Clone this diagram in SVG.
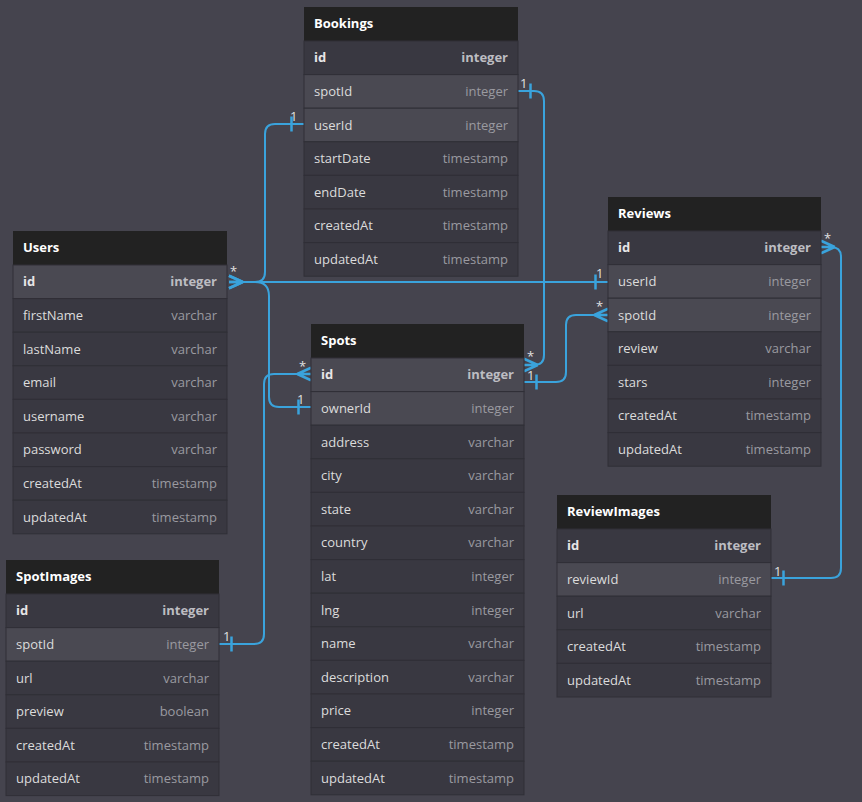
<svg xmlns="http://www.w3.org/2000/svg" width="862" height="802" viewBox="0 0 862 802">
<style>
text{font-family:"Open Sans","Noto Sans",sans-serif;font-size:13px}
.h{fill:#222222}
.hd{fill:#ffffff;font-weight:bold}
.r{fill:#393841;stroke:#302f37;stroke-width:1}
.f{fill:#4a4952;stroke:#302f37;stroke-width:1}
.n{fill:#dcdcdc}
.t{fill:#9a9aa0;text-anchor:end}
.b{font-weight:bold}
.nb{fill:#e6e6e6;font-weight:bold}
.tb{fill:#bdbdc2;font-weight:bold;text-anchor:end}
.c{fill:none;stroke:#3aa3dc;stroke-width:2}
.lbl{fill:#e0e0e0;font-size:13px}
</style>
<defs>
<marker id="many" markerUnits="userSpaceOnUse" markerWidth="20" markerHeight="20" refX="0" refY="0" viewBox="-12 -8 14 16" orient="auto-start-reverse" overflow="visible">
<path d="M-11 0 L0 -5 M-11 0 L0 5 M-11 0 L0 0" fill="none" stroke="#3aa3dc" stroke-width="2"/>
</marker>
<marker id="one" markerUnits="userSpaceOnUse" markerWidth="20" markerHeight="20" refX="0" refY="0" viewBox="-12 -8 14 16" orient="auto-start-reverse" overflow="visible">
<path d="M-10 -6 L-10 6" fill="none" stroke="#3aa3dc" stroke-width="2"/>
</marker>
</defs>
<rect width="862" height="802" fill="#45444e"/>

<g id="connectors">
<path class="c" d="M229 282 L255 282 Q265 282 265 272 L265 134 Q265 124 275 124 L304 124" marker-start="url(#many)" marker-end="url(#one)"/>
<path class="c" d="M229 282 L608 282" marker-start="url(#many)" marker-end="url(#one)"/>
<path class="c" d="M255 282 Q269 282 269 296 L269 397 Q269 407 279 407 L311 407" marker-end="url(#one)"/>
<path class="c" d="M219 644 L254 644 Q264 644 264 634 L264 384 Q264 374 274 374 L311 374" marker-start="url(#one)" marker-end="url(#many)"/>
<path class="c" d="M518 91 L534 91 Q544 91 544 101 L544 355 Q544 365 534 365 L524 365" marker-start="url(#one)" marker-end="url(#many)"/>
<path class="c" d="M524 382 L556 382 Q566 382 566 372 L566 325 Q566 315 576 315 L608 315" marker-start="url(#one)" marker-end="url(#many)"/>
<path class="c" d="M771 578 L831 578 Q841 578 841 568 L841 257 Q841 247 831 247 L821 247" marker-start="url(#one)" marker-end="url(#many)"/>
<text class="lbl" x="230" y="276">*</text>
<text class="lbl" x="290" y="121">1</text>
<text class="lbl" x="596" y="278">1</text>
<text class="lbl" x="297" y="404">1</text>
<text class="lbl" x="299" y="371">*</text>
<text class="lbl" x="223" y="641">1</text>
<text class="lbl" x="520" y="88">1</text>
<text class="lbl" x="527" y="361">*</text>
<text class="lbl" x="527" y="380">1</text>
<text class="lbl" x="596" y="311">*</text>
<text class="lbl" x="774" y="576">1</text>
<text class="lbl" x="824" y="243">*</text>
</g>

<g id="Bookings">
<rect class="h" x="304" y="7" width="214" height="34"/>
<text class="hd" x="314" y="28">Bookings</text>
<rect class="r" x="304" y="41" width="214" height="33.6"/><text class="nb" x="314" y="62">id</text><text class="tb" x="508" y="62">integer</text>
<rect class="f" x="304" y="74.6" width="214" height="33.6"/><text class="n" x="314" y="96">spotId</text><text class="t" x="508" y="96">integer</text>
<rect class="f" x="304" y="108.2" width="214" height="33.6"/><text class="n" x="314" y="129.5">userId</text><text class="t" x="508" y="129.5">integer</text>
<rect class="r" x="304" y="141.8" width="214" height="33.6"/><text class="n" x="314" y="163">startDate</text><text class="t" x="508" y="163">timestamp</text>
<rect class="r" x="304" y="175.4" width="214" height="33.6"/><text class="n" x="314" y="196.7">endDate</text><text class="t" x="508" y="196.7">timestamp</text>
<rect class="r" x="304" y="209" width="214" height="33.6"/><text class="n" x="314" y="230.3">createdAt</text><text class="t" x="508" y="230.3">timestamp</text>
<rect class="r" x="304" y="242.6" width="214" height="33.6"/><text class="n" x="314" y="263.9">updatedAt</text><text class="t" x="508" y="263.9">timestamp</text>
</g>

<g id="Users">
<rect class="h" x="13" y="231" width="214" height="34"/>
<text class="hd" x="23" y="252">Users</text>
<rect class="f" x="13" y="265" width="214" height="33.6"/><text class="nb" x="23" y="286.3">id</text><text class="tb" x="217" y="286.3">integer</text>
<rect class="r" x="13" y="298.6" width="214" height="33.6"/><text class="n" x="23" y="319.9">firstName</text><text class="t" x="217" y="319.9">varchar</text>
<rect class="r" x="13" y="332.2" width="214" height="33.6"/><text class="n" x="23" y="353.5">lastName</text><text class="t" x="217" y="353.5">varchar</text>
<rect class="r" x="13" y="365.8" width="214" height="33.6"/><text class="n" x="23" y="387.1">email</text><text class="t" x="217" y="387.1">varchar</text>
<rect class="r" x="13" y="399.4" width="214" height="33.6"/><text class="n" x="23" y="420.7">username</text><text class="t" x="217" y="420.7">varchar</text>
<rect class="r" x="13" y="433" width="214" height="33.6"/><text class="n" x="23" y="454.3">password</text><text class="t" x="217" y="454.3">varchar</text>
<rect class="r" x="13" y="466.6" width="214" height="33.6"/><text class="n" x="23" y="487.9">createdAt</text><text class="t" x="217" y="487.9">timestamp</text>
<rect class="r" x="13" y="500.2" width="214" height="33.6"/><text class="n" x="23" y="521.5">updatedAt</text><text class="t" x="217" y="521.5">timestamp</text>
</g>

<g id="Reviews">
<rect class="h" x="608" y="197" width="213" height="34"/>
<text class="hd" x="618" y="218">Reviews</text>
<rect class="r" x="608" y="231" width="213" height="33.6"/><text class="nb" x="618" y="252.3">id</text><text class="tb" x="811" y="252.3">integer</text>
<rect class="f" x="608" y="264.6" width="213" height="33.6"/><text class="n" x="618" y="285.9">userId</text><text class="t" x="811" y="285.9">integer</text>
<rect class="f" x="608" y="298.2" width="213" height="33.6"/><text class="n" x="618" y="319.5">spotId</text><text class="t" x="811" y="319.5">integer</text>
<rect class="r" x="608" y="331.8" width="213" height="33.6"/><text class="n" x="618" y="353.1">review</text><text class="t" x="811" y="353.1">varchar</text>
<rect class="r" x="608" y="365.4" width="213" height="33.6"/><text class="n" x="618" y="386.7">stars</text><text class="t" x="811" y="386.7">integer</text>
<rect class="r" x="608" y="399" width="213" height="33.6"/><text class="n" x="618" y="420.3">createdAt</text><text class="t" x="811" y="420.3">timestamp</text>
<rect class="r" x="608" y="432.6" width="213" height="33.6"/><text class="n" x="618" y="453.9">updatedAt</text><text class="t" x="811" y="453.9">timestamp</text>
</g>

<g id="Spots">
<rect class="h" x="311" y="324" width="213" height="34"/>
<text class="hd" x="321" y="345">Spots</text>
<rect class="f" x="311" y="358" width="213" height="33.6"/><text class="nb" x="321" y="379.3">id</text><text class="tb" x="514" y="379.3">integer</text>
<rect class="f" x="311" y="391.6" width="213" height="33.6"/><text class="n" x="321" y="412.9">ownerId</text><text class="t" x="514" y="412.9">integer</text>
<rect class="r" x="311" y="425.2" width="213" height="33.6"/><text class="n" x="321" y="446.5">address</text><text class="t" x="514" y="446.5">varchar</text>
<rect class="r" x="311" y="458.8" width="213" height="33.6"/><text class="n" x="321" y="480.1">city</text><text class="t" x="514" y="480.1">varchar</text>
<rect class="r" x="311" y="492.4" width="213" height="33.6"/><text class="n" x="321" y="513.7">state</text><text class="t" x="514" y="513.7">varchar</text>
<rect class="r" x="311" y="526" width="213" height="33.6"/><text class="n" x="321" y="547.3">country</text><text class="t" x="514" y="547.3">varchar</text>
<rect class="r" x="311" y="559.6" width="213" height="33.6"/><text class="n" x="321" y="580.9">lat</text><text class="t" x="514" y="580.9">integer</text>
<rect class="r" x="311" y="593.2" width="213" height="33.6"/><text class="n" x="321" y="614.5">lng</text><text class="t" x="514" y="614.5">integer</text>
<rect class="r" x="311" y="626.8" width="213" height="33.6"/><text class="n" x="321" y="648.1">name</text><text class="t" x="514" y="648.1">varchar</text>
<rect class="r" x="311" y="660.4" width="213" height="33.6"/><text class="n" x="321" y="681.7">description</text><text class="t" x="514" y="681.7">varchar</text>
<rect class="r" x="311" y="694" width="213" height="33.6"/><text class="n" x="321" y="715.3">price</text><text class="t" x="514" y="715.3">integer</text>
<rect class="r" x="311" y="727.6" width="213" height="33.6"/><text class="n" x="321" y="748.9">createdAt</text><text class="t" x="514" y="748.9">timestamp</text>
<rect class="r" x="311" y="761.2" width="213" height="33.6"/><text class="n" x="321" y="782.5">updatedAt</text><text class="t" x="514" y="782.5">timestamp</text>
</g>

<g id="SpotImages">
<rect class="h" x="6" y="560" width="213" height="34"/>
<text class="hd" x="16" y="581">SpotImages</text>
<rect class="r" x="6" y="594" width="213" height="33.6"/><text class="nb" x="16" y="615.3">id</text><text class="tb" x="209" y="615.3">integer</text>
<rect class="f" x="6" y="627.6" width="213" height="33.6"/><text class="n" x="16" y="648.9">spotId</text><text class="t" x="209" y="648.9">integer</text>
<rect class="r" x="6" y="661.2" width="213" height="33.6"/><text class="n" x="16" y="682.5">url</text><text class="t" x="209" y="682.5">varchar</text>
<rect class="r" x="6" y="694.8" width="213" height="33.6"/><text class="n" x="16" y="716.1">preview</text><text class="t" x="209" y="716.1">boolean</text>
<rect class="r" x="6" y="728.4" width="213" height="33.6"/><text class="n" x="16" y="749.7">createdAt</text><text class="t" x="209" y="749.7">timestamp</text>
<rect class="r" x="6" y="762" width="213" height="33.6"/><text class="n" x="16" y="783.3">updatedAt</text><text class="t" x="209" y="783.3">timestamp</text>
</g>

<g id="ReviewImages">
<rect class="h" x="557" y="495" width="214" height="34"/>
<text class="hd" x="567" y="516">ReviewImages</text>
<rect class="r" x="557" y="529" width="214" height="33.6"/><text class="nb" x="567" y="550.3">id</text><text class="tb" x="761" y="550.3">integer</text>
<rect class="f" x="557" y="562.6" width="214" height="33.6"/><text class="n" x="567" y="583.9">reviewId</text><text class="t" x="761" y="583.9">integer</text>
<rect class="r" x="557" y="596.2" width="214" height="33.6"/><text class="n" x="567" y="617.5">url</text><text class="t" x="761" y="617.5">varchar</text>
<rect class="r" x="557" y="629.8" width="214" height="33.6"/><text class="n" x="567" y="651.1">createdAt</text><text class="t" x="761" y="651.1">timestamp</text>
<rect class="r" x="557" y="663.4" width="214" height="33.6"/><text class="n" x="567" y="684.7">updatedAt</text><text class="t" x="761" y="684.7">timestamp</text>
</g>
</svg>
